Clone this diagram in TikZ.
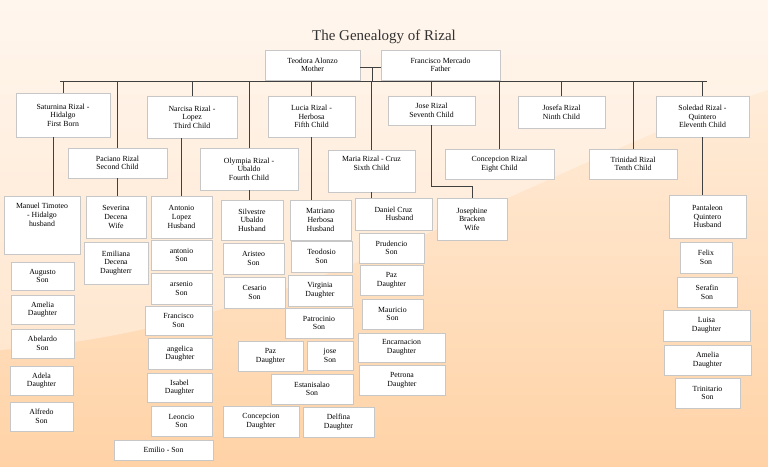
\documentclass[tikz,border=0pt]{standalone}
\usepackage{fontspec}
\setmainfont{Liberation Serif}
\begin{document}
\begin{tikzpicture}[x=1pt,y=-1pt,
  bx/.style={draw=black!22,fill=white,inner sep=0pt,align=center,font=\fontsize{7.8}{8.6}\selectfont},
  ln/.style={draw=black!75,line width=0.6pt}]
\newcommand\bx[6]{\node[bx,minimum width={(#4-#2)*1pt},minimum height={(#5-#3)*1pt}] (#1) at ({(#2+#4)/2},{(#3+#5)/2}) {#6};}
\useasboundingbox (0,0) rectangle (768,466);
\shade[top color=orange!10!white, bottom color=orange!35!white] (0,0) rectangle (768,466);
\fill[white,opacity=0.35] (0,0) -- (768,0) -- (768,90) .. controls (550,160) and (300,330) .. (0,350) -- cycle;
\node[font=\fontsize{15}{17}\selectfont,text=black!80] (title) at (384,37) {The Genealogy of Rizal};
% parents
\bx{teo}{265}{50}{360}{80}{Teodora Alonzo\\ Mother}
\bx{fra}{381}{50}{500}{80}{Francisco Mercado\\ Father}
% children
\bx{sat}{16}{93}{110}{137}{Saturnina Rizal -\\ Hidalgo\\ First Born}
\bx{pac}{68}{148}{167}{178}{Paciano Rizal\\ Second Child}
\bx{nar}{147}{96}{237}{138}{Narcisa Rizal -\\ Lopez\\ Third Child}
\bx{oly}{200}{148}{298}{190}{Olympia Rizal -\\ Ubaldo\\ Fourth Child}
\bx{luc}{268}{96}{355}{137}{Lucia Rizal -\\ Herbosa\\ Fifth Child}
\bx{mar}{328}{150}{415}{192}{Maria Rizal - Cruz\\ Sixth Child\\[7pt]}
\bx{jose}{388}{96}{475}{125}{Jose Rizal\\ Seventh Child}
\bx{con}{445}{149}{554}{179}{Concepcion Rizal\\ Eight Child}
\bx{jsa}{518}{96}{605}{128}{Josefa Rizal\\ Ninth Child}
\bx{tri}{589}{149}{677}{179}{Trinidad Rizal\\ Tenth Child}
\bx{sol}{656}{96}{749}{137}{Soledad Rizal -\\ Quintero\\ Eleventh Child}
% spouses
\bx{man}{4}{196}{80}{254}{Manuel Timoteo\\ - Hidalgo\\ husband\\[12pt]}
\bx{sev}{86}{196}{146}{238}{Severina\\ Decena\\ Wife}
\bx{ant}{151}{196}{212}{238}{Antonio\\ Lopez\\ Husband}
\bx{sil}{221}{200}{283}{240}{Silvestre\\ Ubaldo\\ Husband}
\bx{mat}{290}{200}{351}{240}{Matriano\\ Herbosa\\ Husband}
\bx{dan}{355}{198}{432}{230}{Daniel Cruz\\ \hspace*{12pt}Husband}
\bx{jph}{437}{198}{507}{240}{Josephine\\ Bracken\\ Wife}
\bx{pan}{669}{195}{746}{238}{Pantaleon\\ Quintero\\ Husband}
% grandchildren
\bx{aug}{11}{262}{74}{290}{Augusto\\ Son}
\bx{ame}{11}{295}{74}{324}{Amelia\\ Daughter}
\bx{abe}{11}{329}{74}{358}{Abelardo\\ Son}
\bx{ade}{10}{366}{73}{395}{Adela\\ Daughter}
\bx{alf}{10}{402}{73}{431}{Alfredo\\ Son}
\bx{emi}{84}{242}{148}{284}{Emiliana\\ Decena\\ Daughterr}
\bx{an2}{151}{240}{212}{270}{antonio\\ Son}
\bx{ars}{151}{273}{212}{304}{arsenio\\ Son}
\bx{fr2}{145}{306}{212}{335}{Francisco\\ Son}
\bx{ang}{148}{338}{212}{369}{angelica\\ Daughter}
\bx{isa}{147}{373}{212}{402}{Isabel\\ Daughter}
\bx{leo}{151}{406}{212}{436}{Leoncio\\ Son}
\bx{eml}{114}{440}{213}{460}{Emilio - Son}
\bx{ari}{223}{243}{284}{274}{Aristeo\\ Son}
\bx{ces}{224}{277}{285}{308}{Cesario\\ Son}
\bx{teod}{291}{241}{352}{272}{Teodosio\\ Son}
\bx{vir}{288}{275}{352}{306}{Virginia\\ Daughter}
\bx{pat}{285}{308}{353}{338}{Patrocinio\\ Son}
\bx{paz}{238}{341}{303}{371}{Paz\\ Daughter}
\bx{jo2}{307}{341}{353}{370}{jose\\ Son}
\bx{est}{271}{374}{353}{404}{Estanisalao\\ Son}
\bx{cod}{223}{406}{299}{437}{Concepcion\\ Daughter}
\bx{del}{303}{407}{374}{437}{Delfina\\ Daughter}
\bx{pru}{359}{233}{424}{263}{Prudencio\\ Son}
\bx{pz2}{360}{265}{423}{295}{Paz\\ Daughter}
\bx{mau}{362}{299}{423}{329}{Mauricio\\ Son}
\bx{enc}{358}{333}{445}{362}{Encarnacion\\ Daughter}
\bx{pet}{359}{365}{445}{395}{Petrona\\ Daughter}
\bx{fel}{680}{242}{732}{273}{Felix\\ Son}
\bx{ser}{677}{277}{737}{307}{Serafin\\ Son}
\bx{lui}{663}{310}{750}{341}{Luisa\\ Daughter}
\bx{am2}{664}{345}{751}{375}{Amelia\\ Daughter}
\bx{trs}{675}{378}{740}{408}{Trinitario\\ Son}
% connectors
\coordinate (busL) at (60,81);
\coordinate (busR) at (707,81);
\coordinate (pm) at (372,67);
\coordinate (jb) at (472,186);
\draw[ln] (busL) -- (busR);
\draw[ln] (teo.east |- pm) -- (fra.west |- pm);
\draw[ln] (pm) -- (pm |- busL);
\foreach \c in {sat,pac,nar,oly,luc,mar,jose,con,jsa,tri,sol}
  \draw[ln] (\c.north) -- (\c.north |- busL);
\draw[ln] ([xshift=-10pt]sat.south) -- ++(0,59);
\draw[ln] (pac.south) -- (pac.south |- sev.north);
\draw[ln] (nar.south -| ant.north) -- (ant.north);
\draw[ln] (oly.south) -- (oly.south |- sil.north);
\draw[ln] (luc.south) -- (luc.south |- mat.north);
\draw[ln] (mar.south) -- (mar.south |- dan.north);
\draw[ln] (jose.south) |- (jb) -- (jph.north);
\draw[ln] (sol.south) -- (sol.south |- pan.north);
\end{tikzpicture}
\end{document}
